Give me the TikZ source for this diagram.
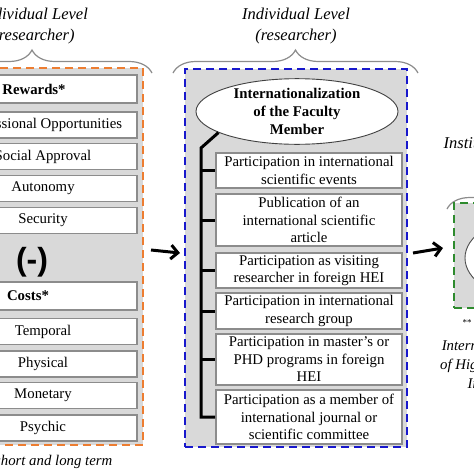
\documentclass[tikz,border=0pt]{standalone}
\usepackage{fontspec}
\setmainfont{Liberation Serif}
\newfontfamily\signfont{Liberation Sans}
\usetikzlibrary{arrows.meta,decorations.pathreplacing,shapes.geometric}

\definecolor{orangeDash}{RGB}{237,125,49}
\definecolor{blueDash}{RGB}{24,24,204}
\definecolor{greenDash}{RGB}{46,139,46}
\definecolor{panelGray}{RGB}{217,217,217}
\definecolor{edgeGray}{RGB}{140,140,140}

\tikzset{every picture/.style={line width=0.75pt}}
\tikzset{
  panel/.style={fill=panelGray, dash pattern=on 8pt off 5pt, line width=2pt, inner sep=0pt},
  itembox/.style={draw=edgeGray, fill=white, line width=1.6pt, inner sep=0pt, align=center, font=\fontsize{14.8}{17.5}\selectfont},
  leftitem/.style={itembox, minimum width=188pt, minimum height=26pt},
  actbox/.style={itembox, minimum width=186pt},
  bracket/.style={draw=edgeGray, line width=1.2pt, decorate, decoration={brace, amplitude=23pt}},
  heading/.style={align=center, font=\fontsize{16.5}{21}\selectfont\itshape},
  flowarrow/.style={line width=3pt, -{Straight Barb[length=7pt,width=14pt]}},
  treeline/.style={line width=3pt, black}
}

\begin{document}
\begin{tikzpicture}[x=1pt,y=1pt,yscale=-1,xscale=1]
\useasboundingbox (0,0) rectangle (474,474);
\clip (0,0) rectangle (474,474);

%Shape: Brace [left]
\draw[bracket] (-88,73) -- (152,73);
%Shape: Brace [middle]
\draw[bracket] (173,73) -- (418,73);
%Shape: Brace [right]
\draw[bracket] (447,209) -- (640,209);

% Text Node
\node[heading] (lvlA) at (34,26) {Individual Level\\(researcher)};
% Text Node
\node[heading] (lvlB) at (296,26) {Individual Level\\(researcher)};
% Text Node
\node[heading, anchor=west] (lvlC) at (440,143) {Institutional Level};

%Shape: Rectangle [rewards and costs]
\node[panel, draw=orangeDash, minimum width=203pt, minimum height=377pt] (rc) at (41.5,256.5) {};
\node[leftitem, minimum height=28pt] (rew) at (43,89) {};
\node[font=\fontsize{14.8}{17.5}\selectfont\bfseries] (rewt) at (34,89) {Rewards*};
\node[leftitem] (opp) at (43,125) {Professional Opportunities};
\node[leftitem] (soc) at (43,156.5) {Social Approval};
\node[leftitem] (aut) at (43,188.5) {Autonomy};
\node[leftitem] (sec) at (43,220.5) {Security};
% Text Node
\node[font=\signfont\bfseries\fontsize{32}{32}\selectfont] (minus) at (32,262) {(-)};
\node[leftitem, minimum height=28pt] (cst) at (43,296) {};
\node[font=\fontsize{14.8}{17.5}\selectfont\bfseries] (cstt) at (28,296) {Costs*};
\node[leftitem] (tmp) at (43,331.5) {Temporal};
\node[leftitem] (phy) at (43,364) {Physical};
\node[leftitem] (mon) at (43,395.5) {Monetary};
\node[leftitem] (psy) at (43,428) {Psychic};
% Text Node
\node[anchor=east, font=\fontsize{14.8}{17.5}\selectfont\itshape] (term) at (116,462) {*short and long term};

%Shape: Rectangle [faculty member]
\node[panel, draw=blueDash, minimum width=222pt, minimum height=378pt] (ib) at (296,258) {};
\node[ellipse, draw=black!75, fill=white, line width=0.9pt, minimum width=202pt, minimum height=63pt, inner sep=0pt, align=center, font=\fontsize{14.8}{18}\selectfont\bfseries] (fm) at (297,111.5) {Internationalization\\of the Faculty\\Member};
\node[actbox, minimum height=35pt] (p1) at (309,170.5) {Participation in international\\scientific events};
\node[actbox, minimum height=52pt] (p2) at (309,220) {Publication of an\\international scientific\\article};
\node[actbox, minimum height=35pt] (p3) at (309,270.5) {Participation as visiting\\researcher in foreign HEI};
\node[actbox, minimum height=36pt] (p4) at (309,311) {Participation in international\\research group};
\node[actbox, minimum height=51pt] (p5) at (309,359.5) {Participation in master’s or\\PHD programs in foreign\\HEI};
\node[actbox, minimum height=54pt] (p6) at (309,417) {Participation as a member of\\international journal or\\scientific committee};

%Straight Lines [tree]
\coordinate (trunk) at (201,148);
\draw[treeline] (fm.195) -- (trunk) -- (trunk |- p6.west) -- (p6.west);
\foreach \b in {p1,p2,p3,p4,p5}
  \draw[treeline] (trunk |- \b.west) -- (\b.west);

%Shape: Rectangle [institution]
\node[panel, draw=greenDash, minimum width=156pt, minimum height=105pt] (gp) at (532,255.5) {};
\node[ellipse, draw=black!70, fill=white, line width=0.9pt, minimum width=120pt, minimum height=78pt] (hei) at (525,258) {};
% Text Node
\node[anchor=west, font=\fontsize{9}{10}\selectfont] (note) at (459,323) {**};
% Text Node
\node[align=center, font=\fontsize{14.8}{19}\selectfont\itshape] (ihe) at (501,364) {Internationalization\\of Higher Education\\Institutions};

%Straight Lines [arrows]
\draw[flowarrow] ([xshift=7pt,yshift=-6.5pt]rc.east) -- ([xshift=-4pt,yshift=-5pt]ib.west);
\draw[flowarrow] ([xshift=5pt,yshift=-5pt]ib.east) -- ([xshift=-10pt,yshift=-7.5pt]gp.west);

\end{tikzpicture}
\end{document}
